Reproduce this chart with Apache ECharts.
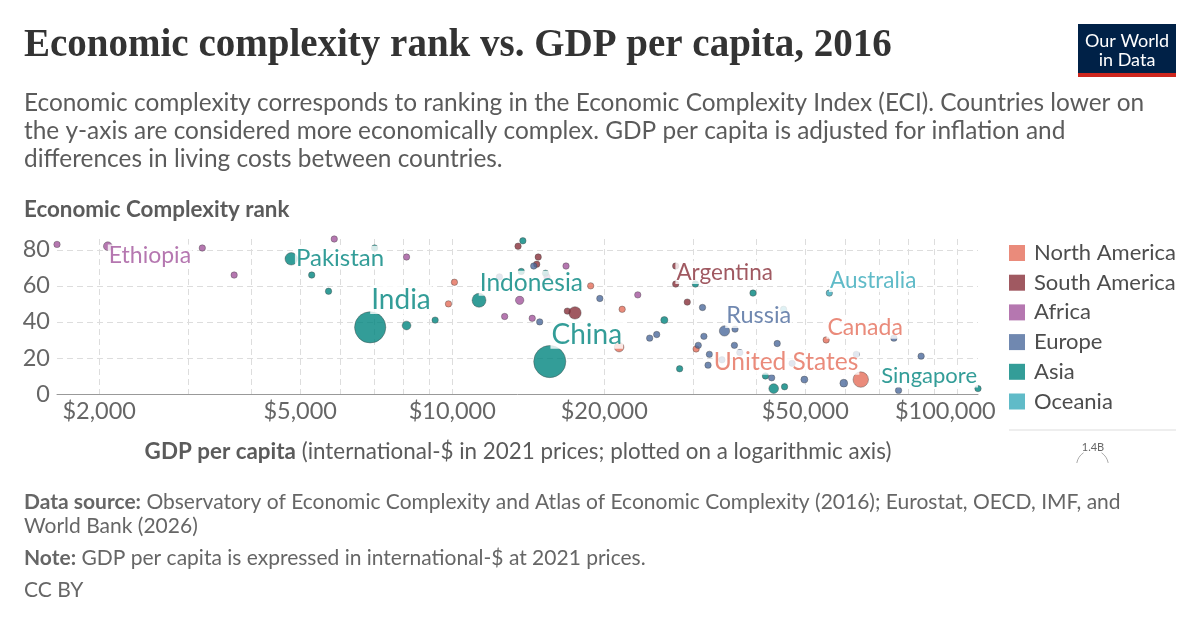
<!DOCTYPE html>
<html>
<head>
<meta charset="utf-8">
<title>Economic complexity rank vs. GDP per capita, 2016</title>
<script src="https://cdn.jsdelivr.net/npm/echarts@6/dist/echarts.min.js"></script>
<style>
    html, body { margin: 0; padding: 0; background: #fff; }
    #chart { width: 1200px; height: 627px; }
</style>
</head>
<body>
<div id="chart"></div>
<script>
// each point: [GDP per capita (int.-$, 2021 prices), ECI rank, population (millions), label]
const northAmerica = [
    [10100, 62, 10], [9830, 50, 10], [18800, 60, 10], [21700, 47, 10],
    [21400, 26, 124], [30400, 25, 10],
    [55000, 30, 36, 'Canada'],
    [64400, 8, 323, 'United States']
];
const southAmerica = [
    [13500, 82, 10], [14800, 76, 10], [14700, 72, 10], [16900, 46, 10],
    [17500, 45, 206], [27700, 71, 10],
    [27700, 61, 43, 'Argentina'],
    [29200, 51, 10]
];
const africa = [
    [1650, 83, 10],
    [2080, 82, 103, 'Ethiopia'],
    [3200, 81, 10], [3700, 66, 10], [5840, 86, 10], [8120, 76, 10],
    [12700, 43, 10], [13600, 52, 95], [14400, 42, 10], [15400, 65, 10],
    [16800, 71, 10], [23300, 55, 10]
];
const europe = [
    [12400, 65, 10], [14500, 71, 10], [14900, 40, 10], [19600, 53, 10],
    [24600, 31, 10], [25400, 33, 10], [30700, 27, 10], [31300, 48, 10],
    [31500, 32, 10], [32100, 16, 10], [32300, 22, 10], [34200, 19, 10],
    [34600, 35, 144, 'Russia'],
    [36200, 27, 10], [36300, 36, 10], [37100, 23, 10], [42900, 9, 10],
    [44000, 28, 10], [47100, 17, 10], [49800, 8, 66], [59600, 6, 82],
    [63100, 22, 10], [74900, 31, 10], [76500, 2, 10], [84800, 21, 10]
];
const asia = [
    [4800, 75, 208, 'Pakistan'],
    [5270, 66, 10], [5690, 57, 10],
    [6880, 37, 1324, 'India'],
    [7020, 81, 10], [8120, 38, 104], [9250, 41, 10],
    [11300, 52, 261, 'Indonesia'],
    [13700, 68, 10], [13800, 85, 10], [15300, 67, 10],
    [15600, 18, 1400, 'China'],
    [26300, 41, 69], [28200, 14, 10], [30300, 61, 10], [39400, 56, 10],
    [41700, 10, 10], [43300, 3, 127], [45500, 4, 10],
    [109900, 3, 6, 'Singapore']
];
const oceania = [
    [45300, 47, 5],
    [55800, 56, 24, 'Australia']
];

const continents = ['North America', 'South America', 'Africa', 'Europe', 'Asia', 'Oceania'];
const continentData = [northAmerica, southAmerica, africa, europe, asia, oceania];
const colors = ['#e56e5a', '#883039', '#a2559c', '#4c6a9c', '#00847e', '#38aaba'];

const xLabelValues = [2000, 5000, 10000, 20000, 50000, 100000];
const xGridValues = [2000, 3000, 4000, 5000, 6000, 7000, 8000, 9000, 10000,
    20000, 30000, 40000, 50000, 60000, 70000, 80000, 90000, 100000];
const yLabelValues = [0, 20, 40, 60, 80];
const yGridValues = [20, 40, 60, 80];

// where each country label sits relative to its point
const labelStyle = {
    'Ethiopia': { dx: 1, dy: 9.7, size: 23 },
    'Pakistan': { dx: 4.7, dy: -1, size: 24 },
    'India': { dx: 1, dy: -27.2, size: 28 },
    'Indonesia': { dx: 0.7, dy: -17.1, size: 24.5 },
    'China': { dx: 1.7, dy: -26.8, size: 28 },
    'Argentina': { dx: 0.7, dy: -11.5, size: 22.5 },
    'Russia': { dx: 1.7, dy: -15, size: 23.5 },
    'Australia': { dx: 0.7, dy: -12.5, size: 22.5 },
    'Canada': { dx: 1.3, dy: -12.6, size: 23 },
    'United States': { dx: -2.4, dy: -17.4, size: 24.5, align: 'right' },
    'Singapore': { dx: -1, dy: -12.2, size: 22, align: 'right' }
};

const allPoints = [].concat(...continentData);
const xMin = Math.log10(Math.min(...allPoints.map(d => d[0])));
const xMax = Math.log10(Math.max(...allPoints.map(d => d[0])));
const yMax = Math.max(...allPoints.map(d => d[1]));

const font = 'Lato';
const grey = '#5b5b5b';

function toItem(d, color) {
    const r = Math.max(3.2, 0.43 * Math.sqrt(d[2]));
    const item = { value: [Math.log10(d[0]), d[1]], symbolSize: 2 * r };
    if (d[3]) {
        const s = labelStyle[d[3]];
        const align = s.align || 'left';
        item.name = d[3];
        item.label = {
            show: true,
            position: 'inside',
            align: align,
            verticalAlign: 'middle',
            offset: [s.dx + (align === 'left' ? -1 : 1), s.dy],
            fontSize: s.size,
            fontFamily: font,
            color: color,
            backgroundColor: '#fff',
            padding: [0, 1],
            formatter: d[3]
        };
    }
    return item;
}

const series = continents.map((name, i) => ({
    name: name,
    type: 'scatter',
    color: colors[i],
    itemStyle: { opacity: 0.8, borderColor: '#444', borderWidth: 0.5 },
    label: { show: false },
    emphasis: { disabled: true },
    data: continentData[i].map(d => toItem(d, colors[i]))
}));

function fmtDollar(v) {
    const n = Math.round(Math.pow(10, v));
    const s = '$' + n.toLocaleString('en-US');
    return n === 100000 ? '{last|' + s + '}' : s;
}

const chart = echarts.init(document.getElementById('chart'));
chart.setOption({
    animation: false,
    grid: { left: 57, right: 222, top: 239, bottom: 233, containLabel: false },
    xAxis: {
        type: 'value',
        min: xMin,
        max: xMax,
        axisLine: { show: true, onZero: false, lineStyle: { color: '#999', width: 1 } },
        axisTick: { show: false, customValues: xGridValues.map(v => Math.log10(v)) },
        axisLabel: {
            customValues: xLabelValues.map(v => Math.log10(v)),
            formatter: fmtDollar,
            fontSize: 23.5,
            fontFamily: font,
            color: '#666',
            margin: 5,
            rich: { last: { fontSize: 23.5, fontFamily: font, color: '#666', padding: [0, 24, 0, 0] } }
        },
        splitLine: { show: true, lineStyle: { color: '#ddd', type: [6, 4], width: 1 } }
    },
    yAxis: {
        type: 'value',
        min: 0,
        max: yMax,
        axisLine: { show: false },
        axisTick: { show: false, customValues: yGridValues },
        axisLabel: {
            customValues: yLabelValues,
            fontSize: 23.5,
            fontFamily: font,
            color: '#666',
            margin: 7
        },
        splitLine: { show: true, lineStyle: { color: '#ddd', type: [6, 4], width: 1 } }
    },
    legend: {
        orient: 'vertical',
        left: 1009,
        top: 242,
        padding: 0,
        itemWidth: 16,
        itemHeight: 16,
        itemGap: 7.7,
        icon: 'rect',
        selectedMode: false,
        itemStyle: { borderWidth: 0 },
        textStyle: { fontSize: 22, fontFamily: font, color: '#4d4d4d', padding: [0, 0, 0, 4] },
        data: continents
    },
    series: series,
    graphic: [
        {
            type: 'text', x: 24, y: 46,
            style: {
                text: 'Economic complexity rank vs. GDP per capita, 2016',
                fontSize: 39, fontWeight: 'bold', fontFamily: '"Liberation Serif", serif',
                fill: '#333', verticalAlign: 'middle'
            }
        },
        {
            type: 'text', x: 24, y: 103,
            style: {
                text: 'Economic complexity corresponds to ranking in the Economic Complexity Index (ECI). Countries lower on',
                fontSize: 24.4, fontFamily: font, fill: grey, verticalAlign: 'middle'
            }
        },
        {
            type: 'text', x: 24, y: 131,
            style: {
                text: 'the y-axis are considered more economically complex. GDP per capita is adjusted for inflation and',
                fontSize: 24.4, fontFamily: font, fill: grey, verticalAlign: 'middle'
            }
        },
        {
            type: 'text', x: 24, y: 159,
            style: {
                text: 'differences in living costs between countries.',
                fontSize: 24.4, fontFamily: font, fill: grey, verticalAlign: 'middle'
            }
        },
        {
            type: 'text', x: 24, y: 210,
            style: {
                text: 'Economic Complexity rank',
                fontSize: 22.4, fontWeight: 'bold', fontFamily: font, fill: grey, verticalAlign: 'middle'
            }
        },
        {
            type: 'text', x: 518, y: 452,
            style: {
                text: '{b|GDP per capita}{n| (international-$ in 2021 prices; plotted on a logarithmic axis)}',
                align: 'center', verticalAlign: 'middle',
                rich: {
                    b: { fontSize: 22.4, fontWeight: 'bold', fontFamily: font, fill: grey },
                    n: { fontSize: 22.4, fontFamily: font, fill: grey }
                }
            }
        },
        {
            type: 'text', x: 24, y: 502,
            style: {
                text: '{b|Data source:}{n| Observatory of Economic Complexity and Atlas of Economic Complexity (2016); Eurostat, OECD, IMF, and}',
                verticalAlign: 'middle',
                rich: {
                    b: { fontSize: 21, fontWeight: 'bold', fontFamily: font, fill: '#666' },
                    n: { fontSize: 21, fontFamily: font, fill: '#666' }
                }
            }
        },
        {
            type: 'text', x: 24, y: 526,
            style: { text: 'World Bank (2026)', fontSize: 21, fontFamily: font, fill: '#666', verticalAlign: 'middle' }
        },
        {
            type: 'text', x: 24, y: 558,
            style: {
                text: '{b|Note:}{n| GDP per capita is expressed in international-$ at 2021 prices.}',
                verticalAlign: 'middle',
                rich: {
                    b: { fontSize: 21, fontWeight: 'bold', fontFamily: font, fill: '#666' },
                    n: { fontSize: 21, fontFamily: font, fill: '#666' }
                }
            }
        },
        {
            type: 'text', x: 24, y: 590,
            style: { text: 'CC BY', fontSize: 21, fontFamily: font, fill: '#666', verticalAlign: 'middle' }
        },
        // Our World in Data logo
        { type: 'rect', shape: { x: 1078, y: 24, width: 98, height: 50 }, style: { fill: '#002147' } },
        { type: 'rect', shape: { x: 1078, y: 73, width: 98, height: 4 }, style: { fill: '#ce261e' } },
        {
            type: 'text', x: 1127, y: 41,
            style: { text: 'Our World', fontSize: 18, fontFamily: font, fill: '#fff', align: 'center', verticalAlign: 'middle' }
        },
        {
            type: 'text', x: 1127, y: 60,
            style: { text: 'in Data', fontSize: 18, fontFamily: font, fill: '#fff', align: 'center', verticalAlign: 'middle' }
        },
        // size legend
        { type: 'line', shape: { x1: 1009, y1: 430, x2: 1176, y2: 430 }, style: { stroke: '#ddd', lineWidth: 1 } },
        {
            type: 'arc', shape: { cx: 1092.5, cy: 466, r: 16, startAngle: 3.33, endAngle: 4.12 },
            style: { stroke: '#aaa', fill: null, lineWidth: 1 }
        },
        {
            type: 'arc', shape: { cx: 1092.5, cy: 466, r: 16, startAngle: 5.31, endAngle: 6.09 },
            style: { stroke: '#aaa', fill: null, lineWidth: 1 }
        },
        {
            type: 'text', x: 1093, y: 447,
            style: { text: '1.4B', fontSize: 11, fontFamily: font, fill: '#666', align: 'center', verticalAlign: 'middle' }
        }
    ]
});
</script>
</body>
</html>
